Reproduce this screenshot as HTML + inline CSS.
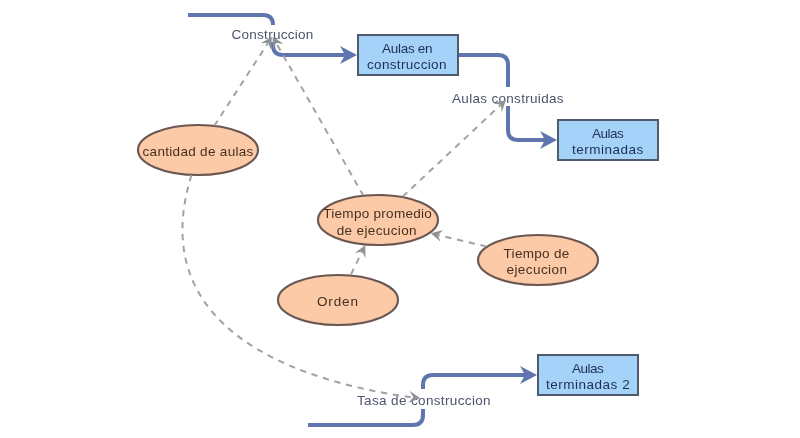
<!DOCTYPE html>
<html>
<head>
<meta charset="utf-8">
<style>
html,body{margin:0;padding:0;background:#ffffff;}
body{width:800px;height:438px;overflow:hidden;}
svg{display:block;will-change:transform;}
text{font-family:"Liberation Sans", sans-serif;font-size:13.5px;}
.flow{fill:#4c546c;}
.box{fill:#1c3152;}
.aux{fill:#45301f;}
.pipe{fill:none;stroke:#5f75ad;stroke-width:4;}
.dash{fill:none;stroke:#a2a2a2;stroke-width:2;stroke-dasharray:6.3 5.67;}
</style>
</head>
<body>
<svg width="800" height="438" viewBox="0 0 800 438">
<path class="pipe" d="M188 15 H263 Q273 15 273 25"/>
<path class="pipe" d="M273 42 V45 Q273 55 283 55 H345"/>
<polygon fill="#5f75ad" points="340,46 357,55 340,64 345,55"/>
<path class="pipe" d="M459 55 H498 Q508 55 508 65 V87"/>
<path class="pipe" d="M508 106 V130 Q508 140 518 140 H545"/>
<polygon fill="#5f75ad" points="540,131 557,140 540,149 545,140"/>
<path class="pipe" d="M308 425 H413 Q423 425 423 415 V409"/>
<path class="pipe" d="M423 389 V385 Q423 375 433 375 H525"/>
<polygon fill="#5f75ad" points="520,366 537,375 520,384 525,375"/>
<rect x="358" y="35" width="100" height="40" fill="#a5d2f8" stroke="#4f5b6b" stroke-width="2"/>
<rect x="558" y="120" width="100" height="40" fill="#a5d2f8" stroke="#4f5b6b" stroke-width="2"/>
<rect x="538" y="355" width="100" height="40" fill="#a5d2f8" stroke="#4f5b6b" stroke-width="2"/>
<ellipse cx="198" cy="150" rx="60" ry="25" fill="#fccaa7" stroke="#6a5750" stroke-width="2.1"/>
<ellipse cx="378" cy="220" rx="60" ry="25" fill="#fccaa7" stroke="#6a5750" stroke-width="2.1"/>
<ellipse cx="338" cy="300" rx="60" ry="25" fill="#fccaa7" stroke="#6a5750" stroke-width="2.1"/>
<ellipse cx="538" cy="260" rx="60" ry="25" fill="#fccaa7" stroke="#6a5750" stroke-width="2.1"/>
<text class="flow" x="231.5" y="39.3" textLength="81.8" lengthAdjust="spacing">Construccion</text>
<text class="flow" x="452.0" y="102.5" textLength="111.56" lengthAdjust="spacing">Aulas construidas</text>
<text class="flow" x="357.0" y="404.5" textLength="133.63" lengthAdjust="spacing">Tasa de construccion</text>
<text class="box" x="382.0" y="52.6" textLength="50.55" lengthAdjust="spacing">Aulas en</text>
<text class="box" x="367.0" y="69.4" textLength="79.4" lengthAdjust="spacing">construccion</text>
<text class="box" x="592.0" y="137.6" textLength="31.78" lengthAdjust="spacing">Aulas</text>
<text class="box" x="572.0" y="154.4" textLength="71.2" lengthAdjust="spacing">terminadas</text>
<text class="box" x="572.0" y="372.6" textLength="31.78" lengthAdjust="spacing">Aulas</text>
<text class="box" x="546.0" y="389.4" textLength="83.65" lengthAdjust="spacing">terminadas 2</text>
<text class="aux" x="142.5" y="155.7" textLength="110.84" lengthAdjust="spacing">cantidad de aulas</text>
<text class="aux" x="323.25" y="218.2" textLength="108.55" lengthAdjust="spacing">Tiempo promedio</text>
<text class="aux" x="336.75" y="235.0" textLength="79.81" lengthAdjust="spacing">de ejecucion</text>
<text class="aux" x="317.0" y="305.7" textLength="40.93" lengthAdjust="spacing">Orden</text>
<text class="aux" x="503.5" y="257.5" textLength="65.88" lengthAdjust="spacing">Tiempo de</text>
<text class="aux" x="506.5" y="274.4" textLength="60.45" lengthAdjust="spacing">ejecucion</text>
<path class="dash" stroke-dashoffset="0.65" d="M214.50 125.50 L268.19 42.67"/>
<path class="dash" stroke-dashoffset="1.15" d="M363.00 195.00 L276.07 42.88"/>
<path class="dash" stroke-dashoffset="-0.85" d="M402.00 197.20 L500.89 104.78"/>
<path class="dash" stroke-dashoffset="0" d="M351.00 274.40 L362.13 251.59"/>
<path class="dash" stroke-dashoffset="0.23" d="M486.20 246.40 L437.61 234.91"/>
<path class="dash" d="M191.5 175 L190.66 177.81 C142.76 338.31 315.89 384.37 413.5 397.6"/>
<polygon fill="#8e9296" points="272.00,36.80 270.78,49.71 268.19,42.67 260.71,43.19"/>
<polygon fill="#8e9296" points="272.60,36.80 283.52,43.81 276.07,42.88 273.10,49.76"/>
<polygon fill="#8e9296" points="506.00,100.00 501.70,112.24 500.89,104.78 493.50,103.47"/>
<polygon fill="#8e9296" points="365.20,245.30 365.55,258.27 362.13,251.59 354.76,253.00"/>
<polygon fill="#8e9296" points="430.80,233.30 443.37,230.11 437.61,234.91 440.61,241.79"/>
<polygon fill="#8e9296" points="420.30,398.20 408.15,402.75 413.35,397.34 409.62,390.84"/>
</svg>
</body>
</html>
